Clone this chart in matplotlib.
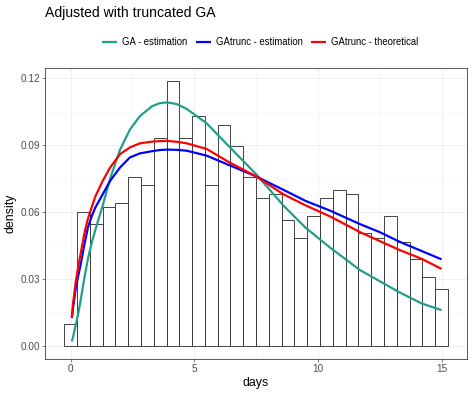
import numpy as np
import matplotlib
matplotlib.use("Agg")
import matplotlib.pyplot as plt

plt.rcParams['font.family'] = ['Liberation Sans', 'DejaVu Sans']

# Histogram (30 bins centred at 0 .. 15)
bin_centers = np.linspace(0, 15, 30)
bin_density = [0.0096, 0.0601, 0.0545, 0.0623, 0.0642, 0.0759, 0.0720, 0.0934,
               0.1187, 0.0934, 0.1030, 0.0720, 0.0991, 0.0895, 0.0759, 0.0662,
               0.0681, 0.0563, 0.0485, 0.0584, 0.0662, 0.0700, 0.0681, 0.0504,
               0.0485, 0.0584, 0.0467, 0.0388, 0.0310, 0.0253]

# Fitted curves
curve_days = [0.05, 0.1, 0.2, 0.3, 0.4, 0.55, 0.7, 0.85, 1.0, 1.3, 1.6, 2.0, 2.4,
              2.8, 3.3, 3.6, 3.9, 4.3, 4.7, 5.5, 6.4, 7.5, 8.6, 9.5, 10.5, 11.7,
              12.5, 13.3, 14.2, 15.0]
ga_est = [0.002, 0.004, 0.009, 0.014, 0.020, 0.030, 0.039, 0.046, 0.052, 0.063,
          0.075, 0.088, 0.097, 0.103, 0.1075, 0.1088, 0.1092, 0.1084, 0.1062,
          0.0998, 0.0895, 0.077, 0.063, 0.053, 0.044, 0.034, 0.029, 0.024,
          0.019, 0.016]
gatrunc_est = [0.0125, 0.017, 0.025, 0.031, 0.036, 0.045, 0.053, 0.058, 0.062,
               0.068, 0.074, 0.080, 0.0845, 0.0863, 0.0873, 0.0878, 0.0880,
               0.0879, 0.0875, 0.0853, 0.0811, 0.076, 0.070, 0.065, 0.0606,
               0.0546, 0.051, 0.0467, 0.0425, 0.0388]
gatrunc_theo = [0.013, 0.019, 0.028, 0.035, 0.041, 0.050, 0.057, 0.062, 0.067,
                0.074, 0.080, 0.086, 0.089, 0.0908, 0.0916, 0.0918, 0.0919,
                0.0915, 0.0908, 0.0883, 0.0824, 0.076, 0.068, 0.063, 0.058,
                0.051, 0.047, 0.043, 0.039, 0.0345]

series_labels = ["GA - estimation", "GAtrunc - estimation", "GAtrunc - theoretical"]
series_colors = ["#1F9E89", "#0000FF", "#FF0000"]

W, H = 474, 395
DPI = 72
fig = plt.figure(figsize=(W / DPI, H / DPI), dpi=DPI)
ax = fig.add_axes([45 / W, 1 - 359 / H, (467 - 45) / W, (359 - 68) / H])

binw = 15 / 29
ax.bar(bin_centers, bin_density, width=binw, color="white", edgecolor="#333333",
       linewidth=0.9, zorder=2)

for ys, lab, col in zip([ga_est, gatrunc_est, gatrunc_theo], series_labels, series_colors):
    ax.plot(curve_days, ys, color=col, lw=2.2, label=lab, zorder=3,
            solid_capstyle="butt", solid_joinstyle="round")

ax.set_xlim(-1.035, 16.03)
ax.set_ylim(-0.0059, 0.1246)
ax.set_xticks([0, 5, 10, 15])
ax.set_xticks([2.5, 7.5, 12.5], minor=True)
ax.set_yticks([0.0, 0.03, 0.06, 0.09, 0.12])
ax.set_yticklabels(["0.00", "0.03", "0.06", "0.09", "0.12"])
ax.set_yticks([0.015, 0.045, 0.075, 0.105], minor=True)
ax.grid(True, which="major", color="#EBEBEB", lw=0.8, zorder=0)
ax.grid(True, which="minor", color="#F4F4F4", lw=0.5, zorder=0)
ax.set_axisbelow(True)
ax.tick_params(which="major", length=3, width=0.6, color="#333333",
               labelsize=10, labelcolor="#4D4D4D", pad=2)
ax.tick_params(which="minor", length=0)
for s in ax.spines.values():
    s.set_color("#333333")
    s.set_linewidth(0.8)
ax.set_xlabel("days", fontsize=12.4, labelpad=3)
ax.set_ylabel("density", fontsize=12.4, labelpad=4)

fig.text(45 / W, 1 - 13 / H, "Adjusted with truncated GA", fontsize=14,
         ha="left", va="center")

handles, labels = ax.get_legend_handles_labels()
fig.legend(handles, labels, loc="center", bbox_to_anchor=(260 / W, 1 - 42 / H),
           ncol=3, frameon=False, fontsize=9.5, handlelength=1.6,
           handletextpad=0.5, columnspacing=0.9)

fig.savefig("out.png", dpi=DPI)
